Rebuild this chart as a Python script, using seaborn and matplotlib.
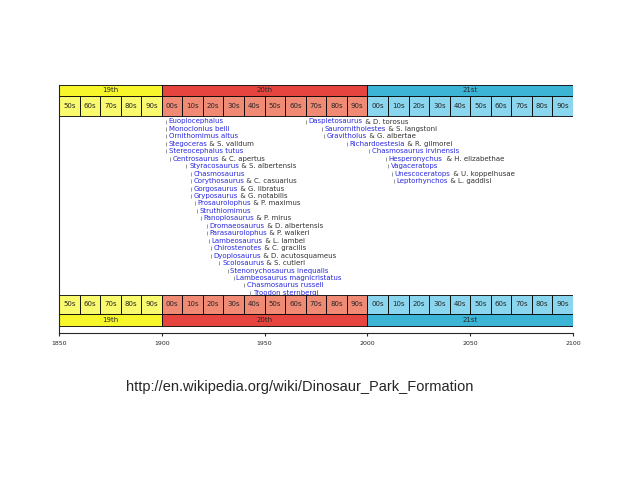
import matplotlib.pyplot as plt
import numpy as np
import pandas as pd
import seaborn as sns

# discoveries on the left-hand staircase (year, name, extra)
left_years = [1902, 1902, 1902, 1902, 1902, 1904, 1912, 1914, 1914, 1914, 1914,
              1916, 1917, 1919, 1922, 1922, 1923, 1924, 1924, 1928, 1932, 1935,
              1940, 1943]
left_names = ["Euoplocephalus", "Monoclonius belli", "Ornithomimus altus", "Stegoceras",
              "Stereocephalus tutus", "Centrosaurus", "Styracosaurus", "Chasmosaurus",
              "Corythosaurus", "Gorgosaurus", "Gryposaurus", "Prosaurolophus",
              "Struthiomimus", "Panoplosaurus", "Dromaeosaurus", "Parasaurolophus",
              "Lambeosaurus", "Chirostenotes", "Dyoplosaurus", "Scolosaurus",
              "Stenonychosaurus inequalis", "Lambeosaurus magnicristatus",
              "Chasmosaurus russeli", "Troodon sternbergi"]
left_extra = ["", "", "", " & S. validum", "", " & C. apertus", " & S. albertensis", "",
              " & C. casuarius", " & G. libratus", " & G. notabilis", " & P. maximus", "",
              " & P. mirus", " & D. albertensis", " & P. walkeri", " & L. lambei",
              " & C. gracilis", " & D. acutosquameus", " & S. cutleri", "", "", "", ""]

right_years = [1970, 1978, 1979, 1990, 2001, 2009, 2010, 2012, 2013]
right_names = ["Daspletosaurus", "Saurornitholestes", "Gravitholus", "Richardoestesia",
               "Chasmosaurus irvinensis", "Hesperonychus", "Vagaceratops",
               "Unescoceratops", "Leptorhynchos"]
right_extra = [" & D. torosus", " & S. langstoni", " & G. albertae", " & R. gilmorei", "",
               "  & H. elizabethae", "", " & U. koppelhusae", " & L. gaddisi"]

centuries = ["19th", "20th", "21st"]
century_start = [1850, 1900, 2000]
century_end = [1900, 2000, 2100]
century_col = ["#f6f62a", "#e6453f", "#3cb4d6"]
decade_col = ["#fafa6e", "#f08a75", "#8ad6ee"]

sns.set_style("white")
fig = plt.figure(figsize=(6.38, 4.78), dpi=100)
ax = fig.add_axes([59 / 638, 1 - 333 / 478, 514 / 638, 248 / 478])
ax.set_xlim(1850, 2100)
ax.set_ylim(333, 85)


def bands(y_cent, h_cent, y_dec, h_dec):
    for name, s, e, cc, dc in zip(centuries, century_start, century_end, century_col, decade_col):
        ax.add_patch(plt.Rectangle((s, y_cent), e - s, h_cent, fc=cc, ec="black", lw=0.6))
        ax.text((s + e) / 2, y_cent + h_cent / 2, name, ha="center", va="center", fontsize=5)
        for d in range(s, e, 10):
            ax.add_patch(plt.Rectangle((d, y_dec), 10, h_dec, fc=dc, ec="black", lw=0.6))
            ax.text(d + 5, y_dec + h_dec / 2, "%02ds" % (d % 100), ha="center", va="center", fontsize=5)


bands(85, 11, 96, 20)
bands(314, 12, 295, 19)

df = pd.DataFrame({
    "year": left_years + right_years,
    "row": list(range(len(left_years))) + list(range(len(right_years))),
    "name": left_names + right_names,
    "extra": left_extra + right_extra,
})
df["y"] = 121.5 + df["row"] * 7.45

sns.scatterplot(data=df, x="year", y="y", marker="|", s=8, color="#888888", linewidth=0.6, ax=ax, legend=False)
for _, r in df.iterrows():
    t = ax.text(r["year"] + 1.3, r["y"], r["name"], color="#2a2ae0", fontsize=5, va="center")
    if r["extra"]:
        ax.annotate(r["extra"], xy=(1, 0.5), xycoords=t, va="center", fontsize=5, color="#333333")

ax.set_xlabel("")
ax.set_ylabel("")
ax.set_yticks([])
ax.set_xticks([1850, 1900, 1950, 2000, 2050, 2100])
ax.tick_params(axis="x", labelsize=4.5, length=2, direction="out", bottom=True)
for side in ["top", "right"]:
    ax.spines[side].set_visible(False)
ax.spines["left"].set_linewidth(0.8)
ax.spines["bottom"].set_linewidth(0.8)

fig.text(300 / 638, 1 - 387 / 478, "http://en.wikipedia.org/wiki/Dinosaur_Park_Formation",
         ha="center", va="center", fontsize=10.5, family="Liberation Sans")
fig.savefig("out.png", dpi=100)
